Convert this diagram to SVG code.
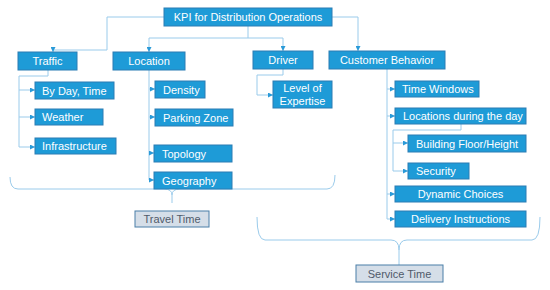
<svg xmlns="http://www.w3.org/2000/svg" width="550" height="290" viewBox="0 0 550 290">
<style>
.box rect{fill:#1E9BD7;stroke:#2B7DB4;stroke-width:1}
.box text{fill:#ffffff;font-family:"Liberation Sans",Arial,sans-serif;font-size:11px}
.c{text-anchor:middle}
.conn path{fill:none;stroke:#9ACBEB;stroke-width:1}
.arr{marker-end:url(#ah)}
.grey rect{fill:#D5DEE8;stroke:#4A7FA8;stroke-width:1}
.grey text{fill:#505A6A;font-family:"Liberation Sans",Arial,sans-serif;font-size:11px;text-anchor:middle}
</style>
<defs>
<marker id="ah" viewBox="0 0 6 6" refX="6" refY="3" markerWidth="5" markerHeight="5" orient="auto" markerUnits="userSpaceOnUse">
<path d="M0,0 L6,3 L0,6 Z" fill="#2A9AD8"/>
</marker>
</defs>
<rect width="550" height="290" fill="#ffffff"/>
<g id="connectors" class="conn">
<path class="arr" d="M164,17 H107 V50 H53 V52"/>
<path class="arr" d="M248,26 V38 H149 V52"/>
<path class="arr" d="M248,38 H283 V51"/>
<path class="arr" d="M332,17 H358 V51"/>
<path class="arr" d="M48,70 V76 H19 V147 H35"/>
<path class="arr" d="M19,90 H35"/>
<path class="arr" d="M19,117 H35"/>
<path class="arr" d="M149,70 V180 H154"/>
<path class="arr" d="M149,89 H155"/>
<path class="arr" d="M149,117 H155"/>
<path class="arr" d="M149,153 H154"/>
<path class="arr" d="M283,69 V75 H257 V95 H273"/>
<path class="arr" d="M387,69 V219 H395"/>
<path class="arr" d="M387,89 H395"/>
<path class="arr" d="M387,116 H395"/>
<path class="arr" d="M387,194 H395"/>
<path class="arr" d="M461,124 V130 H393 V171 H408"/>
<path class="arr" d="M393,143 H408"/>
<path d="M10,177 Q10,189 18,189 H164 Q172,189 172,195 V203 M172,195 Q172,189 180,189 H327 Q335,189 335,175"/>
<path d="M257,217 Q257,240 265,240 H391 Q399,240 399,250 V265 M399,250 Q399,240 407,240 H532 Q540,240 540,217"/>
</g>
<g id="kpi" class="box"><rect x="164" y="8" width="168" height="18"/><text class="c" x="248" y="21">KPI for Distribution Operations</text></g>
<g id="traffic" class="box"><rect x="18" y="52" width="59" height="18"/><text class="c" x="47.5" y="65">Traffic</text></g>
<g id="location" class="box"><rect x="113" y="52" width="72" height="18"/><text class="c" x="149" y="65">Location</text></g>
<g id="driver" class="box"><rect x="253" y="51" width="60" height="18"/><text class="c" x="283" y="64">Driver</text></g>
<g id="customer" class="box"><rect x="329" y="51" width="116" height="18"/><text class="c" x="387" y="64">Customer Behavior</text></g>
<g id="byday" class="box"><rect x="35" y="82" width="79" height="17"/><text x="42" y="94.5">By Day, Time</text></g>
<g id="weather" class="box"><rect x="35" y="109" width="68" height="16"/><text x="42" y="121">Weather</text></g>
<g id="infra" class="box"><rect x="35" y="138" width="81" height="16"/><text x="42" y="150">Infrastructure</text></g>
<g id="density" class="box"><rect x="155" y="81" width="50" height="17"/><text x="163" y="93.5">Density</text></g>
<g id="parking" class="box"><rect x="155" y="109" width="78" height="17"/><text x="163" y="121.5">Parking Zone</text></g>
<g id="topology" class="box"><rect x="154" y="145" width="78" height="17"/><text x="162" y="157.5">Topology</text></g>
<g id="geography" class="box"><rect x="154" y="172" width="78" height="17"/><text x="162" y="184.5">Geography</text></g>
<g id="expertise" class="box"><rect x="273" y="81" width="59" height="27"/><text class="c" x="302.5" y="92">Level of</text><text class="c" x="302.5" y="105">Expertise</text></g>
<g id="timewin" class="box"><rect x="395" y="81" width="84" height="16"/><text x="402" y="93">Time Windows</text></g>
<g id="locday" class="box"><rect x="395" y="108" width="131" height="16"/><text x="403" y="120">Locations during the day</text></g>
<g id="building" class="box"><rect x="408" y="135" width="118" height="17"/><text x="416" y="147.5">Building Floor/Height</text></g>
<g id="security" class="box"><rect x="408" y="163" width="61" height="16"/><text x="416" y="175">Security</text></g>
<g id="dynamic" class="box"><rect x="395" y="186" width="131" height="16"/><text class="c" x="460.5" y="198">Dynamic Choices</text></g>
<g id="delivery" class="box"><rect x="395" y="211" width="131" height="16"/><text class="c" x="460.5" y="223">Delivery Instructions</text></g>
<g id="travel" class="grey"><rect x="135" y="211" width="74" height="16"/><text x="172" y="223">Travel Time</text></g>
<g id="service" class="grey"><rect x="356" y="265" width="87" height="17"/><text x="399.5" y="277.5">Service Time</text></g>
</svg>
